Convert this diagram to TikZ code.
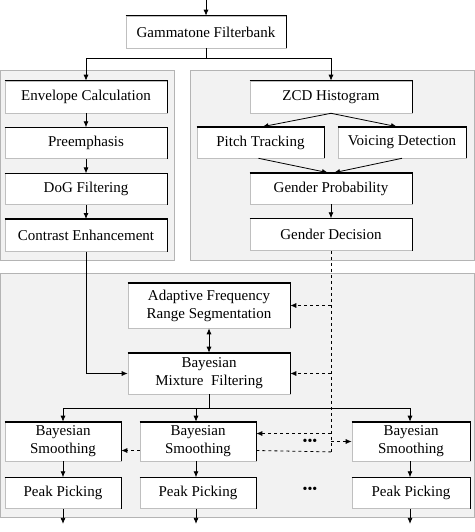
\documentclass[tikz,border=0pt]{standalone}
\usepackage{fontspec}
\setmainfont{Liberation Serif}
\usepackage{tikz}
\usetikzlibrary{arrows.meta, positioning, calc}
\definecolor{panelfill}{HTML}{F2F2F2}
\definecolor{paneledge}{HTML}{B4B4B4}

\begin{document}
\begin{tikzpicture}[
  x=1pt, y=-1pt,
  font=\fontsize{15}{18}\selectfont,
  box/.style={
    rectangle, draw=black!25, fill=white, line width=0.6pt,
    minimum width=162pt, minimum height=31pt, inner sep=2pt, align=center
  },
  rim/.style={line width=1.6pt, black},
  panel/.style={draw=paneledge, fill=panelfill, line width=0.7pt},
  arr/.style={-{Latex[length=6pt, width=5pt]}, line width=0.8pt},
  darr/.style={arr, dashed},
  dline/.style={line width=0.8pt, dashed},
  dots/.style={font=\fontsize{14}{14}\selectfont, inner sep=0pt}
]
  \useasboundingbox (0,0) rectangle (474,532);

  % panels
  \draw[panel] (0,70) rectangle (174,260);
  \draw[panel] (190,70) rectangle (474,260);
  \draw[panel] (0,273) rectangle (474,517);

  % front end
  \coordinate (in) at (206,0);
  \node[box, minimum width=160pt, minimum height=32pt] (gtf) at (206,32) {Gammatone Filterbank};

  % left panel
  \node[box, minimum height=32pt] (env) at (86,97) {Envelope Calculation};
  \node[box, below=14pt of env] (pre) {Preemphasis};
  \node[box, below=14.5pt of pre] (dog) {DoG Filtering};
  \node[box, below=14pt of dog, minimum height=32pt] (con) {Contrast Enhancement};

  % right panel
  \node[box, minimum height=32pt] (zcd) at (331,97) {ZCD Histogram};
  \node[box, minimum width=127pt] (pit) at (260.5,142.5) {Pitch Tracking};
  \node[box, minimum width=128pt] (voi) at (402,142.5) {Voicing Detection};
  \node[box] (gpr) at (331,188.5) {Gender Probability};
  \node[box, below=14pt of gpr, minimum height=32pt] (gde) {Gender Decision};

  % bottom panel
  \node[box, minimum height=45pt] (afr) at (209,305.5) {Adaptive Frequency\\Range Segmentation};
  \node[box, minimum height=41pt] (bmf) at (209,373.5) {Bayesian\\Mixture\ \ Filtering};

  \node[box, minimum width=116pt, minimum height=39pt] (bs1) at (63,441.5) {Bayesian\\Smoothing};
  \node[box, minimum width=116pt, minimum height=39pt] (bs2) at (198,441.5) {Bayesian\\Smoothing};
  \node[box, minimum width=118pt, minimum height=39pt] (bs3) at (411,441.5) {Bayesian\\Smoothing};
  \node[box, minimum width=116pt, below=16pt of bs1] (pp1) {Peak Picking};
  \node[box, minimum width=116pt, below=16pt of bs2] (pp2) {Peak Picking};
  \node[box, minimum width=118pt, below=16pt of bs3] (pp3) {Peak Picking};

  \node[dots] (dt1) at (310,442) {\textbullet\textbullet\textbullet};
  \node[dots] (dt2) at (310,490) {\textbullet\textbullet\textbullet};

  % dark top and right rims
  \foreach \n in {gtf,env,pre,dog,con,zcd,pit,voi,gpr,gde,afr,bmf,bs1,bs2,bs3,pp1,pp2,pp3}
    \draw[rim] (\n.north west) -- (\n.north east) -- (\n.south east);

  % solid connectors
  \draw[arr] (in) -- (gtf.north);
  \draw[arr] (gtf.south) -- ++(0,10) -| (env.north);
  \draw[arr] (gtf.south) -- ++(0,10) -| (zcd.north);
  \draw[arr] (env) -- (pre);
  \draw[arr] (pre) -- (dog);
  \draw[arr] (dog) -- (con);
  \draw[arr] (zcd.south) -- ([xshift=2pt]pit.north);
  \draw[arr] (zcd.south) -- ([xshift=-5pt]voi.north);
  \draw[arr] ([xshift=-2pt]pit.south) -- ([xshift=-3pt]gpr.north);
  \draw[arr] (voi.south) -- ([xshift=3pt]gpr.north);
  \draw[arr] (gpr) -- (gde);
  \draw[arr] (con.south) |- (bmf.west);
  \draw[{Latex[length=6pt, width=5pt]}-{Latex[length=6pt, width=5pt]}, line width=0.8pt] (afr) -- (bmf);
  \draw[arr] (bmf.south) -- ++(0,14) -| (bs1.north);
  \draw[arr] (bmf.south) -- ++(0,14) -| ([xshift=-2pt]bs2.north);
  \draw[arr] (bmf.south) -- ++(0,14) -| ([xshift=-1pt]bs3.north);
  \draw[arr] (bs1) -- (pp1);
  \draw[arr] ([xshift=-2pt]bs2.south) -- ([xshift=-2pt]pp2.north);
  \draw[arr] ([xshift=-1pt]bs3.south) -- ([xshift=-1pt]pp3.north);
  \draw[arr] (pp1.south) -- ++(0,15);
  \draw[arr] ([xshift=-2pt]pp2.south) -- ++(0,15);
  \draw[arr] ([xshift=-1pt]pp3.south) -- ++(0,15);

  % gender decision feeds (dashed)
  \coordinate (gend) at ($(gde.south)+(0,201)$);
  \coordinate (bs2up) at ([yshift=8pt]bs2.east);
  \coordinate (bs2dn) at ([yshift=-9pt]bs2.east);
  \draw[dline] (gde.south) -- (gend);
  \draw[darr] (gde.south |- afr.east) -- (afr.east);
  \draw[darr] (gde.south |- bmf.east) -- (bmf.east);
  \draw[darr] (gde.south |- bs2up) -- (bs2up);
  \draw[dline] (bs2dn) -- (gend);
  \draw[darr] (gde.south |- bs3.west) -- (bs3.west);
  \draw[darr] ([yshift=-9pt]bs2.west) -- ([yshift=-9pt]bs1.east);
\end{tikzpicture}
\end{document}
